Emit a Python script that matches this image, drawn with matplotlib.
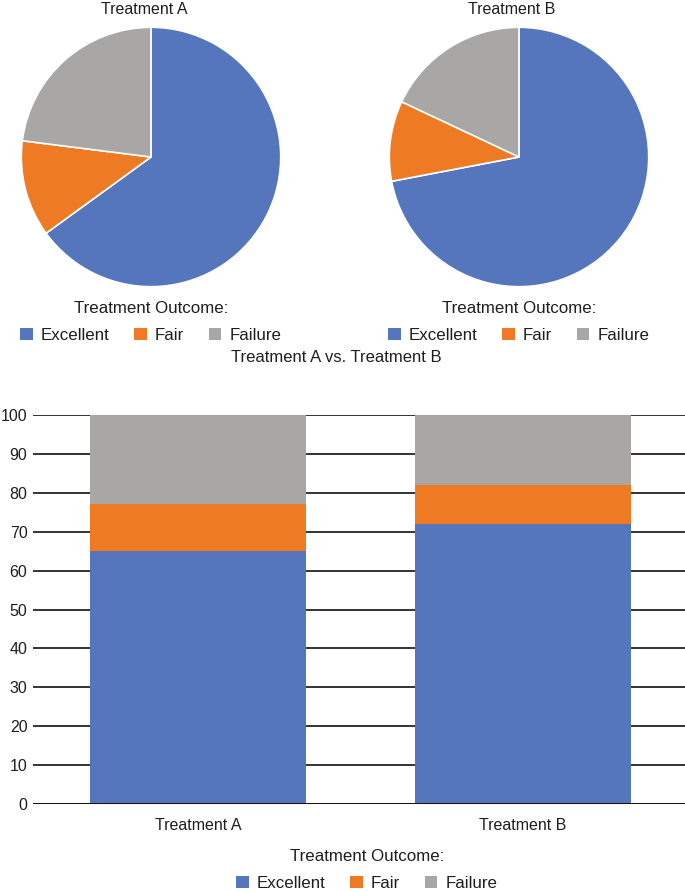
import matplotlib
matplotlib.use("Agg")
import matplotlib.pyplot as plt
from matplotlib.patches import Patch

plt.rcParams['font.family'] = ['Liberation Sans', 'DejaVu Sans']

#############################################
# data
outcomes = ['Excellent', 'Fair', 'Failure']
treatments = ['Treatment A', 'Treatment B']
excellent = [65, 72]
fair = [12, 10]
failure = [23, 18]
yticks = [0, 10, 20, 30, 40, 50, 60, 70, 80, 90, 100]

colors = ['#5575BD', '#EE7B24', '#A8A7A6']
FS = 11.5
LEG_FS = 12.2
TXT = '#1e1e1e'

W, H = 685, 892
fig = plt.figure(figsize=(W / 100, H / 100), dpi=100)


def px_axes(left, top, width, height):
    # place an axes using pixel coords measured from the top-left corner
    return fig.add_axes([left / W, 1 - (top + height) / H, width / W, height / H])


def outcome_legend(cx, cy):
    handles = [Patch(facecolor=c, edgecolor='none') for c in colors]
    leg = fig.legend(handles, outcomes, loc='center', bbox_to_anchor=(cx / W, 1 - cy / H),
                     ncol=3, frameon=False, fontsize=LEG_FS, title='Treatment Outcome:',
                     title_fontsize=LEG_FS, handlelength=0.72, handleheight=0.72,
                     handletextpad=0.5, columnspacing=1.45, borderpad=0, borderaxespad=0)
    leg._legend_box.sep = 9
    leg.get_title().set_color(TXT)
    for t in leg.get_texts():
        t.set_color(TXT)
    return leg


#############################################
# the two pies
pie_centers = [151, 519]
for i, cx in enumerate(pie_centers):
    ax = px_axes(cx - 131, 26, 262, 262)
    vals = [excellent[i], fair[i], failure[i]]
    ax.pie(vals, colors=colors, startangle=90, counterclock=False,
           wedgeprops=dict(edgecolor='white', linewidth=1.2))
    ax.set_xlim(-1.01, 1.01)
    ax.set_ylim(-1.01, 1.01)
    fig.text((cx - 7) / W, 1 - 9 / H, treatments[i], ha='center', va='center',
             fontsize=FS, color=TXT)
    outcome_legend(cx, 322)

#############################################
# stacked bars
ax = px_axes(33, 415, 652, 389)
x = [0, 1]
bottom2 = [a + b for a, b in zip(excellent, fair)]
ax.bar(x, excellent, width=0.666, color=colors[0], zorder=2)
ax.bar(x, fair, width=0.666, bottom=excellent, color=colors[1], zorder=2)
ax.bar(x, failure, width=0.666, bottom=bottom2, color=colors[2], zorder=2)
ax.set_xlim(-0.508, 1.5)
ax.set_ylim(0, 100)
ax.set_yticks(yticks)
ax.set_xticks(x)
ax.set_xticklabels(treatments)
ax.yaxis.grid(True, color='#111111', linewidth=1.2, zorder=1)
ax.set_axisbelow(True)
for s in ax.spines.values():
    s.set_visible(False)
ax.tick_params(length=0, labelsize=FS, colors=TXT)
ax.tick_params(axis='y', pad=4)
ax.tick_params(axis='x', pad=10)
ax.axhline(0, color='#111111', linewidth=1.4, zorder=3)

fig.text(336 / W, 1 - 358 / H, 'Treatment A vs. Treatment B', ha='center', va='center',
         fontsize=12, color=TXT)
outcome_legend(367, 870)

fig.savefig('out.png', dpi=100)
